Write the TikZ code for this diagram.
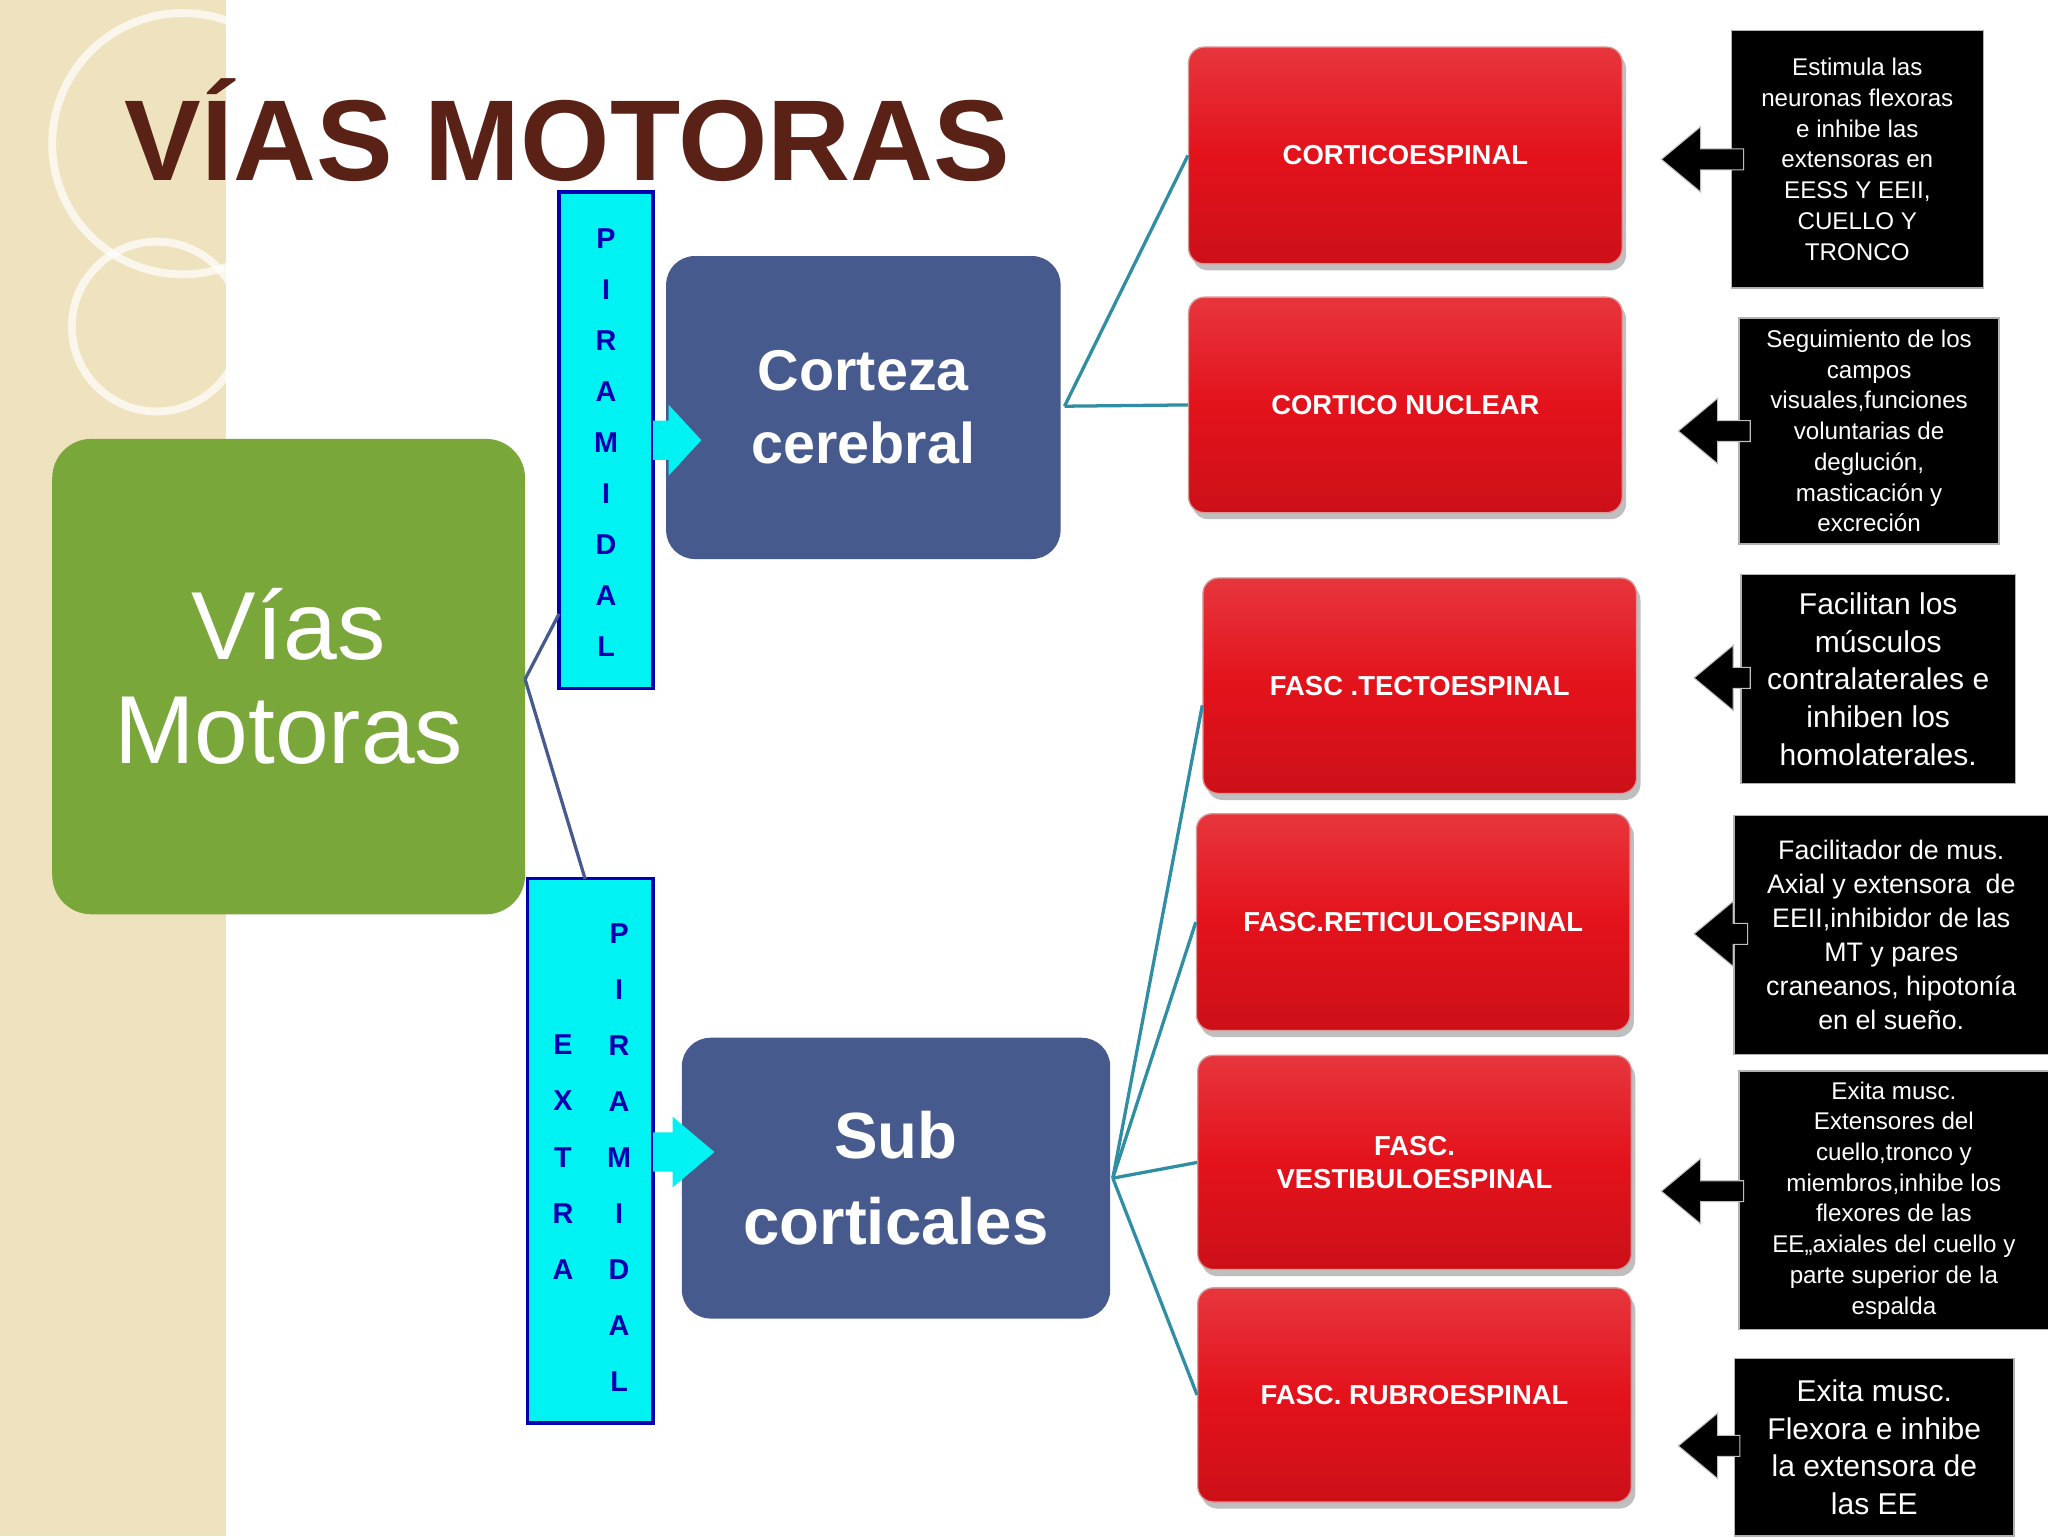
\documentclass[tikz,border=0pt]{standalone}
\usepackage{fontspec}
\setmainfont{Liberation Sans}
\usetikzlibrary{calc}
\definecolor{beige}{HTML}{EFE2BF}
\definecolor{titlec}{HTML}{5A2217}
\definecolor{greenb}{HTML}{7AA73A}
\definecolor{blueb}{HTML}{475A8E}
\definecolor{redb}{HTML}{E3121B}
\definecolor{teal}{HTML}{2F8EA3}
\definecolor{cyanb}{HTML}{00F2F2}
\tikzset{
 redbox/.style={draw=red!60!black!40, line width=1pt, rounded corners=12pt, top color=redb!85!white, bottom color=redb!90!black, middle color=redb, text=white, font=\bfseries\fontsize{21}{25}\selectfont, align=center, inner sep=0pt},
 blackbox/.style={fill=black, draw=gray!60, line width=1pt, text=white, align=center, inner sep=0pt},
 strip/.style={fill=cyanb, draw=blue!70!black, line width=2.5pt},
 strl/.style={text=blue!70!black, font=\bfseries\fontsize{22}{22}\selectfont},
 tline/.style={teal, line width=2.5pt},
 barrow/.style={fill=black, draw=gray!50, line width=0.8pt}
}
\begin{document}
\begin{tikzpicture}[x=1pt,y=-1pt]
\useasboundingbox (0,0) rectangle (1568,1176);
\fill[white] (0,0) rectangle (1568,1176);
\fill[beige] (0,0) rectangle (173,1176);
\begin{scope}
\clip (0,0) rectangle (173,1176);
\draw[white, line width=6pt, opacity=0.7] (140,110) circle (100);
\draw[white, line width=6pt, opacity=0.7] (120,250) circle (65);
\end{scope}
\node[text=titlec, font=\bfseries\fontsize{88}{88}\selectfont, anchor=west] (title) at (92,100) {VÍAS MOTORAS};
% green box
\node[fill=greenb, rounded corners=30pt, minimum width=362pt, minimum height=364pt, text=white, font=\fontsize{74}{80}\selectfont, align=center] (vias) at (221,518) {Vías\\Motoras};
% strips
\node[strip, minimum width=72pt, minimum height=380pt] (pstrip) at (464,337) {};
\foreach \c [count=\i] in {P,I,R,A,M,I,D,A,L} \node[strl] at (464,{183+39*(\i-1)}) {\c};
\node[strip, minimum width=96pt, minimum height=417pt] (estrip) at (452,881) {};
\foreach \c [count=\i] in {E,X,T,R,A} \node[strl] at (431,{800+43*(\i-1)}) {\c};
\foreach \c [count=\i] in {P,I,R,A,M,I,D,A,L} \node[strl] at (474,{715+42.8*(\i-1)}) {\c};
% blue boxes
\node[fill=blueb, rounded corners=22pt, minimum width=302pt, minimum height=232pt, text=white, font=\bfseries\fontsize{44}{56}\selectfont, align=center] (corteza) at (661,312) {Corteza\\cerebral};
\node[fill=blueb, rounded corners=22pt, minimum width=328pt, minimum height=215pt, text=white, font=\bfseries\fontsize{50}{66}\selectfont, align=center] (sub) at (686,902) {Sub\\corticales};
% cyan arrows
\fill[cyanb] (500,322) -- (512,322) -- (512,310) -- (537,337) -- (512,364) -- (512,352) -- (500,352) -- cycle;
\fill[cyanb] (500,867) -- (515,867) -- (515,855) -- (547,882) -- (515,909) -- (515,897) -- (500,897) -- cycle;
% green connectors
\coordinate (gv) at (402,520);
\draw[blueb, line width=2.5pt] (gv) -- (428,470);
\draw[blueb, line width=2.5pt] (gv) -- (448,673);
% red boxes
\foreach \n/\x/\y/\w/\h/\t in {
 r1/1076/119/332/166/{CORTICOESPINAL},
 r2/1076/310/332/165/{CORTICO NUCLEAR},
 r3/1087/525/332/165/{FASC .TECTOESPINAL},
 r4/1082/706/332/166/{FASC.RETICULOESPINAL},
 r5/1083/890/332/164/{FASC.\\VESTIBULOESPINAL},
 r6/1083/1068/332/164/{FASC. RUBROESPINAL}}{
 \fill[gray!50, rounded corners=12pt] (\x-\w/2+3,\y-\h/2+5) rectangle (\x+\w/2+3,\y+\h/2+5);
 \node[redbox, minimum width=\w pt, minimum height=\h pt] (\n) at (\x,\y) {\t};
}
% teal lines
\coordinate (ch) at (815,311);
\draw[tline] (ch) -- (r1.west);
\draw[tline] (ch) -- (r2.west);
\coordinate (sh) at (852,902);
\draw[tline] (sh) -- ($(r3.west)+(0,15)$);
\draw[tline] (sh) -- (r4.west);
\draw[tline] (sh) -- (r5.west);
\draw[tline] (sh) -- (r6.west);
% black boxes
\node[blackbox, minimum width=193pt, minimum height=197pt, font=\fontsize{18.5}{23.5}\selectfont] (b1) at (1422,122) {Estimula las\\neuronas flexoras\\e inhibe las\\extensoras en\\EESS Y EEII,\\CUELLO Y\\TRONCO};
\node[blackbox, minimum width=199pt, minimum height=173pt, font=\fontsize{18.5}{23.5}\selectfont] (b2) at (1431,330) {Seguimiento de los\\campos\\visuales,funciones\\voluntarias de\\deglución,\\masticación y\\excreción};
\node[blackbox, minimum width=210pt, minimum height=160pt, font=\fontsize{23}{29}\selectfont] (b3) at (1438,520) {Facilitan los\\músculos\\contralaterales e\\inhiben los\\homolaterales.};
\node[blackbox, minimum width=241pt, minimum height=183pt, font=\fontsize{20.5}{26}\selectfont] (b4) at (1448,716) {Facilitador de mus.\\Axial y extensora\ \ de\\EEII,inhibidor de las\\MT y pares\\craneanos, hipotonía\\en el sueño.};
\node[blackbox, minimum width=237pt, minimum height=198pt, font=\fontsize{18.5}{23.5}\selectfont] (b5) at (1450,919) {Exita musc.\\Extensores del\\cuello,tronco y\\miembros,inhibe los\\flexores de las\\EE,,axiales del cuello y\\parte superior de la\\espalda};
\node[blackbox, minimum width=214pt, minimum height=136pt, font=\fontsize{23}{29}\selectfont] (b6) at (1435,1108) {Exita musc.\\Flexora e inhibe\\la extensora de\\las EE};
% block arrows
\foreach \tx/\y/\e in {1272/122/1335, 1285/330/1340, 1297/519/1340, 1297/715/1338, 1272/912/1335, 1285/1107/1332}{
 \draw[barrow] (\tx,\y) -- (\tx+30,\y-25) -- (\tx+30,\y-8) -- (\e,\y-8) -- (\e,\y+8) -- (\tx+30,\y+8) -- (\tx+30,\y+25) -- cycle;
}
\end{tikzpicture}
\end{document}
